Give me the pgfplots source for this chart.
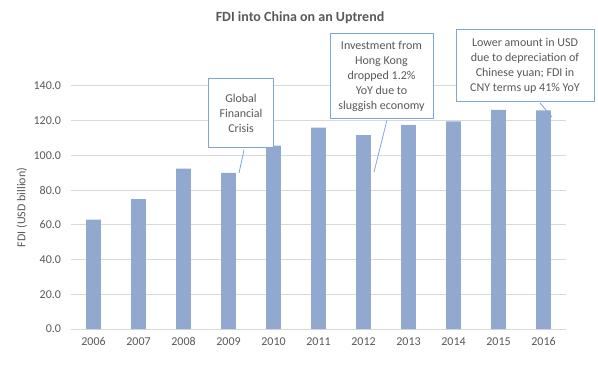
\documentclass[border=0pt]{standalone}
\usepackage{pgfplots}
\pgfplotsset{compat=1.18}
\usepackage{fontspec}
\setmainfont{Carlito}
\definecolor{txt}{RGB}{89,89,89}
\definecolor{barc}{RGB}{146,169,207}
\definecolor{gridc}{RGB}{217,217,217}
\definecolor{boxc}{RGB}{126,166,220}
\begin{document}
\begin{tikzpicture}
\path[use as bounding box] (0pt,0pt) rectangle (448.5pt,280.5pt);
\begin{axis}[
  at={(53.25pt,33.75pt)}, anchor=south west,
  scale only axis, width=371.25pt, height=182.25pt,
  ybar, bar width=11pt,
  xmin=-0.5, xmax=10.5, ymin=0, ymax=140,
  xtick={0,...,10},
  xticklabels={2006,2007,2008,2009,2010,2011,2012,2013,2014,2015,2016},
  ytick={0,20,...,140},
  yticklabel style={xshift=-4pt, /pgf/number format/fixed, /pgf/number format/fixed zerofill, /pgf/number format/precision=1},
  /pgf/number format/assume math mode=true,
  ymajorgrids, grid style={gridc, line width=0.75pt},
  axis x line*=bottom, axis y line*=left,
  x axis line style={gridc, line width=0.75pt, -},
  y axis line style={draw=none},
  major tick length=0pt,
  tick label style={font=\fontsize{9}{11}\selectfont, text=txt},
  xticklabel style={yshift=-3pt},
  ylabel={FDI (USD billion)},
  ylabel style={font=\fontsize{9}{11}\selectfont, text=txt, yshift=-2pt},
  clip=false,
]
\addplot[fill=barc, draw=none] coordinates {
(0,63.0) (1,74.8) (2,92.4) (3,90.0) (4,105.7) (5,116.0) (6,111.7) (7,117.6) (8,119.6) (9,126.3) (10,126.0)};
\end{axis}
\begin{scope}[x=0.75pt,y=0.75pt]
\node[font=\fontsize{10.5}{12}\selectfont\bfseries, text=txt] at (300,356) {FDI into China on an Uptrend};
\begin{scope}[boxc, line width=0.6pt]
\draw (244,224) -- (239,201);
\draw (387,254) -- (374,202);
\draw (540,271) -- (552,257);
\end{scope}
\node[draw=boxc, fill=white, line width=0.75pt, minimum width=48.75pt, minimum height=51.75pt, align=center, text=txt, font=\fontsize{9}{11.25}\selectfont, inner sep=0pt] at (241,260.5) {Global\\Financial\\Crisis};
\node[draw=boxc, fill=white, line width=0.75pt, minimum width=77.25pt, minimum height=63.75pt, align=center, text=txt, font=\fontsize{9}{11.25}\selectfont, inner sep=0pt] at (381.5,297.5) {Investment from\\Hong Kong\\dropped 1.2\%\\YoY due to\\sluggish economy};
\node[draw=boxc, fill=white, line width=0.75pt, minimum width=103.5pt, minimum height=54pt, align=center, text=txt, font=\fontsize{9}{11.25}\selectfont, inner sep=0pt] at (525,308) {Lower amount in USD\\due to depreciation of\\Chinese yuan; FDI in\\CNY terms up 41\% YoY};
\end{scope}
\end{tikzpicture}
\end{document}
